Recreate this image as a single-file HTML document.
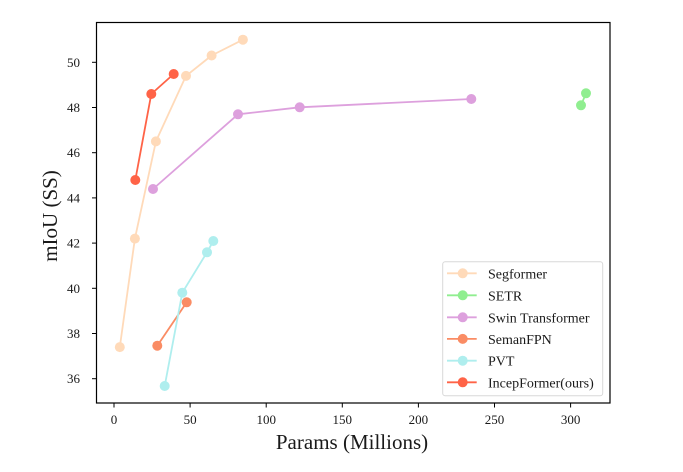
<!DOCTYPE html>
<html>
<head>
<meta charset="utf-8">
<style>
html,body{margin:0;padding:0;background:#fff;}
svg{display:block;}
text{font-family:"Liberation Serif","DejaVu Serif",serif;fill:#1a1a1a;}
</style>
</head>
<body>
<svg width="683" height="472" viewBox="0 0 683 472" xmlns="http://www.w3.org/2000/svg">
<rect width="683" height="472" fill="#fff"/>

<!-- series -->
<g fill="none" stroke-width="1.8" stroke-linejoin="round">
  <polyline stroke="#FFDAB9" points="119.8,347.1 134.9,238.6 155.9,141.4 186.0,75.9 211.6,55.5 242.9,39.7"/>
  <polyline stroke="#90EE90" points="581,105.3 586,93.3"/>
  <polyline stroke="#DDA0DD" points="153,189 238,114.3 299.7,107.3 471.3,99"/>
  <polyline stroke="#FA8C64" points="157.3,345.7 186.7,302.3"/>
  <polyline stroke="#AFEEEE" points="164.7,386 182.3,292.7 207,252.3 213.3,241"/>
  <polyline stroke="#FF6347" points="135.3,180 151.3,94 173.7,74"/>
</g>
<g fill="#FFDAB9">
  <circle cx="119.8" cy="347.1" r="5"/><circle cx="134.9" cy="238.6" r="5"/><circle cx="155.9" cy="141.4" r="5"/>
  <circle cx="186.0" cy="75.9" r="5"/><circle cx="211.6" cy="55.5" r="5"/><circle cx="242.9" cy="39.7" r="5"/>
</g>
<g fill="#90EE90">
  <circle cx="581" cy="105.3" r="5"/><circle cx="586" cy="93.3" r="5"/>
</g>
<g fill="#DDA0DD">
  <circle cx="153" cy="189" r="5"/><circle cx="238" cy="114.3" r="5"/><circle cx="299.7" cy="107.3" r="5"/><circle cx="471.3" cy="99" r="5"/>
</g>
<g fill="#FA8C64">
  <circle cx="157.3" cy="345.7" r="5"/><circle cx="186.7" cy="302.3" r="5"/>
</g>
<g fill="#AFEEEE">
  <circle cx="164.7" cy="386" r="5"/><circle cx="182.3" cy="292.7" r="5"/><circle cx="207" cy="252.3" r="5"/><circle cx="213.3" cy="241" r="5"/>
</g>
<g fill="#FF6347">
  <circle cx="135.3" cy="180" r="5"/><circle cx="151.3" cy="94" r="5"/><circle cx="173.7" cy="74" r="5"/>
</g>

<!-- axes frame -->
<rect x="96.5" y="22.5" width="513.5" height="380.5" fill="none" stroke="#000" stroke-width="1.2"/>

<!-- x ticks -->
<g stroke="#000" stroke-width="1">
  <line x1="114" y1="403" x2="114" y2="407.5"/>
  <line x1="190.1" y1="403" x2="190.1" y2="407.5"/>
  <line x1="266.2" y1="403" x2="266.2" y2="407.5"/>
  <line x1="342.3" y1="403" x2="342.3" y2="407.5"/>
  <line x1="418.4" y1="403" x2="418.4" y2="407.5"/>
  <line x1="494.5" y1="403" x2="494.5" y2="407.5"/>
  <line x1="570.6" y1="403" x2="570.6" y2="407.5"/>
</g>
<g font-size="13" text-anchor="middle">
  <text x="114" y="424">0</text>
  <text x="190.1" y="424">50</text>
  <text x="266.2" y="424">100</text>
  <text x="342.3" y="424">150</text>
  <text x="418.4" y="424">200</text>
  <text x="494.5" y="424">250</text>
  <text x="570.6" y="424">300</text>
</g>

<!-- y ticks -->
<g stroke="#000" stroke-width="1">
  <line x1="92" y1="62.3" x2="96.5" y2="62.3"/>
  <line x1="92" y1="107.5" x2="96.5" y2="107.5"/>
  <line x1="92" y1="152.7" x2="96.5" y2="152.7"/>
  <line x1="92" y1="197.9" x2="96.5" y2="197.9"/>
  <line x1="92" y1="243.1" x2="96.5" y2="243.1"/>
  <line x1="92" y1="288.3" x2="96.5" y2="288.3"/>
  <line x1="92" y1="333.5" x2="96.5" y2="333.5"/>
  <line x1="92" y1="378.7" x2="96.5" y2="378.7"/>
</g>
<g font-size="13" text-anchor="end">
  <text x="80" y="66.8">50</text>
  <text x="80" y="112">48</text>
  <text x="80" y="157.2">46</text>
  <text x="80" y="202.4">44</text>
  <text x="80" y="247.6">42</text>
  <text x="80" y="292.8">40</text>
  <text x="80" y="338">38</text>
  <text x="80" y="383.2">36</text>
</g>

<!-- axis labels -->
<text x="352" y="449" font-size="21" text-anchor="middle">Params (Millions)</text>
<text transform="translate(57,216) rotate(-90)" font-size="21" text-anchor="middle">mIoU (SS)</text>

<!-- legend -->
<rect x="442.7" y="261.7" width="160" height="134" rx="2.5" fill="#fff" fill-opacity="0.85" stroke="#d8d8d8" stroke-width="1"/>
<g stroke-width="1.8">
  <line x1="447" y1="273.3" x2="476.7" y2="273.3" stroke="#FFDAB9"/>
  <line x1="447" y1="295.3" x2="476.7" y2="295.3" stroke="#90EE90"/>
  <line x1="447" y1="317.3" x2="476.7" y2="317.3" stroke="#DDA0DD"/>
  <line x1="447" y1="338.9" x2="476.7" y2="338.9" stroke="#FA8C64"/>
  <line x1="447" y1="360.7" x2="476.7" y2="360.7" stroke="#AFEEEE"/>
  <line x1="447" y1="382.3" x2="476.7" y2="382.3" stroke="#FF6347"/>
</g>
<circle cx="462.7" cy="273.3" r="5" fill="#FFDAB9"/>
<circle cx="462.7" cy="295.3" r="5" fill="#90EE90"/>
<circle cx="462.7" cy="317.3" r="5" fill="#DDA0DD"/>
<circle cx="462.7" cy="338.9" r="5" fill="#FA8C64"/>
<circle cx="462.7" cy="360.7" r="5" fill="#AFEEEE"/>
<circle cx="462.7" cy="382.3" r="5" fill="#FF6347"/>
<g font-size="14">
  <text x="488" y="278.3">Segformer</text>
  <text x="488" y="300.3">SETR</text>
  <text x="488" y="322.3">Swin Transformer</text>
  <text x="488" y="343.9">SemanFPN</text>
  <text x="488" y="365.7">PVT</text>
  <text x="488" y="387.3">IncepFormer(ours)</text>
</g>
</svg>
</body>
</html>
